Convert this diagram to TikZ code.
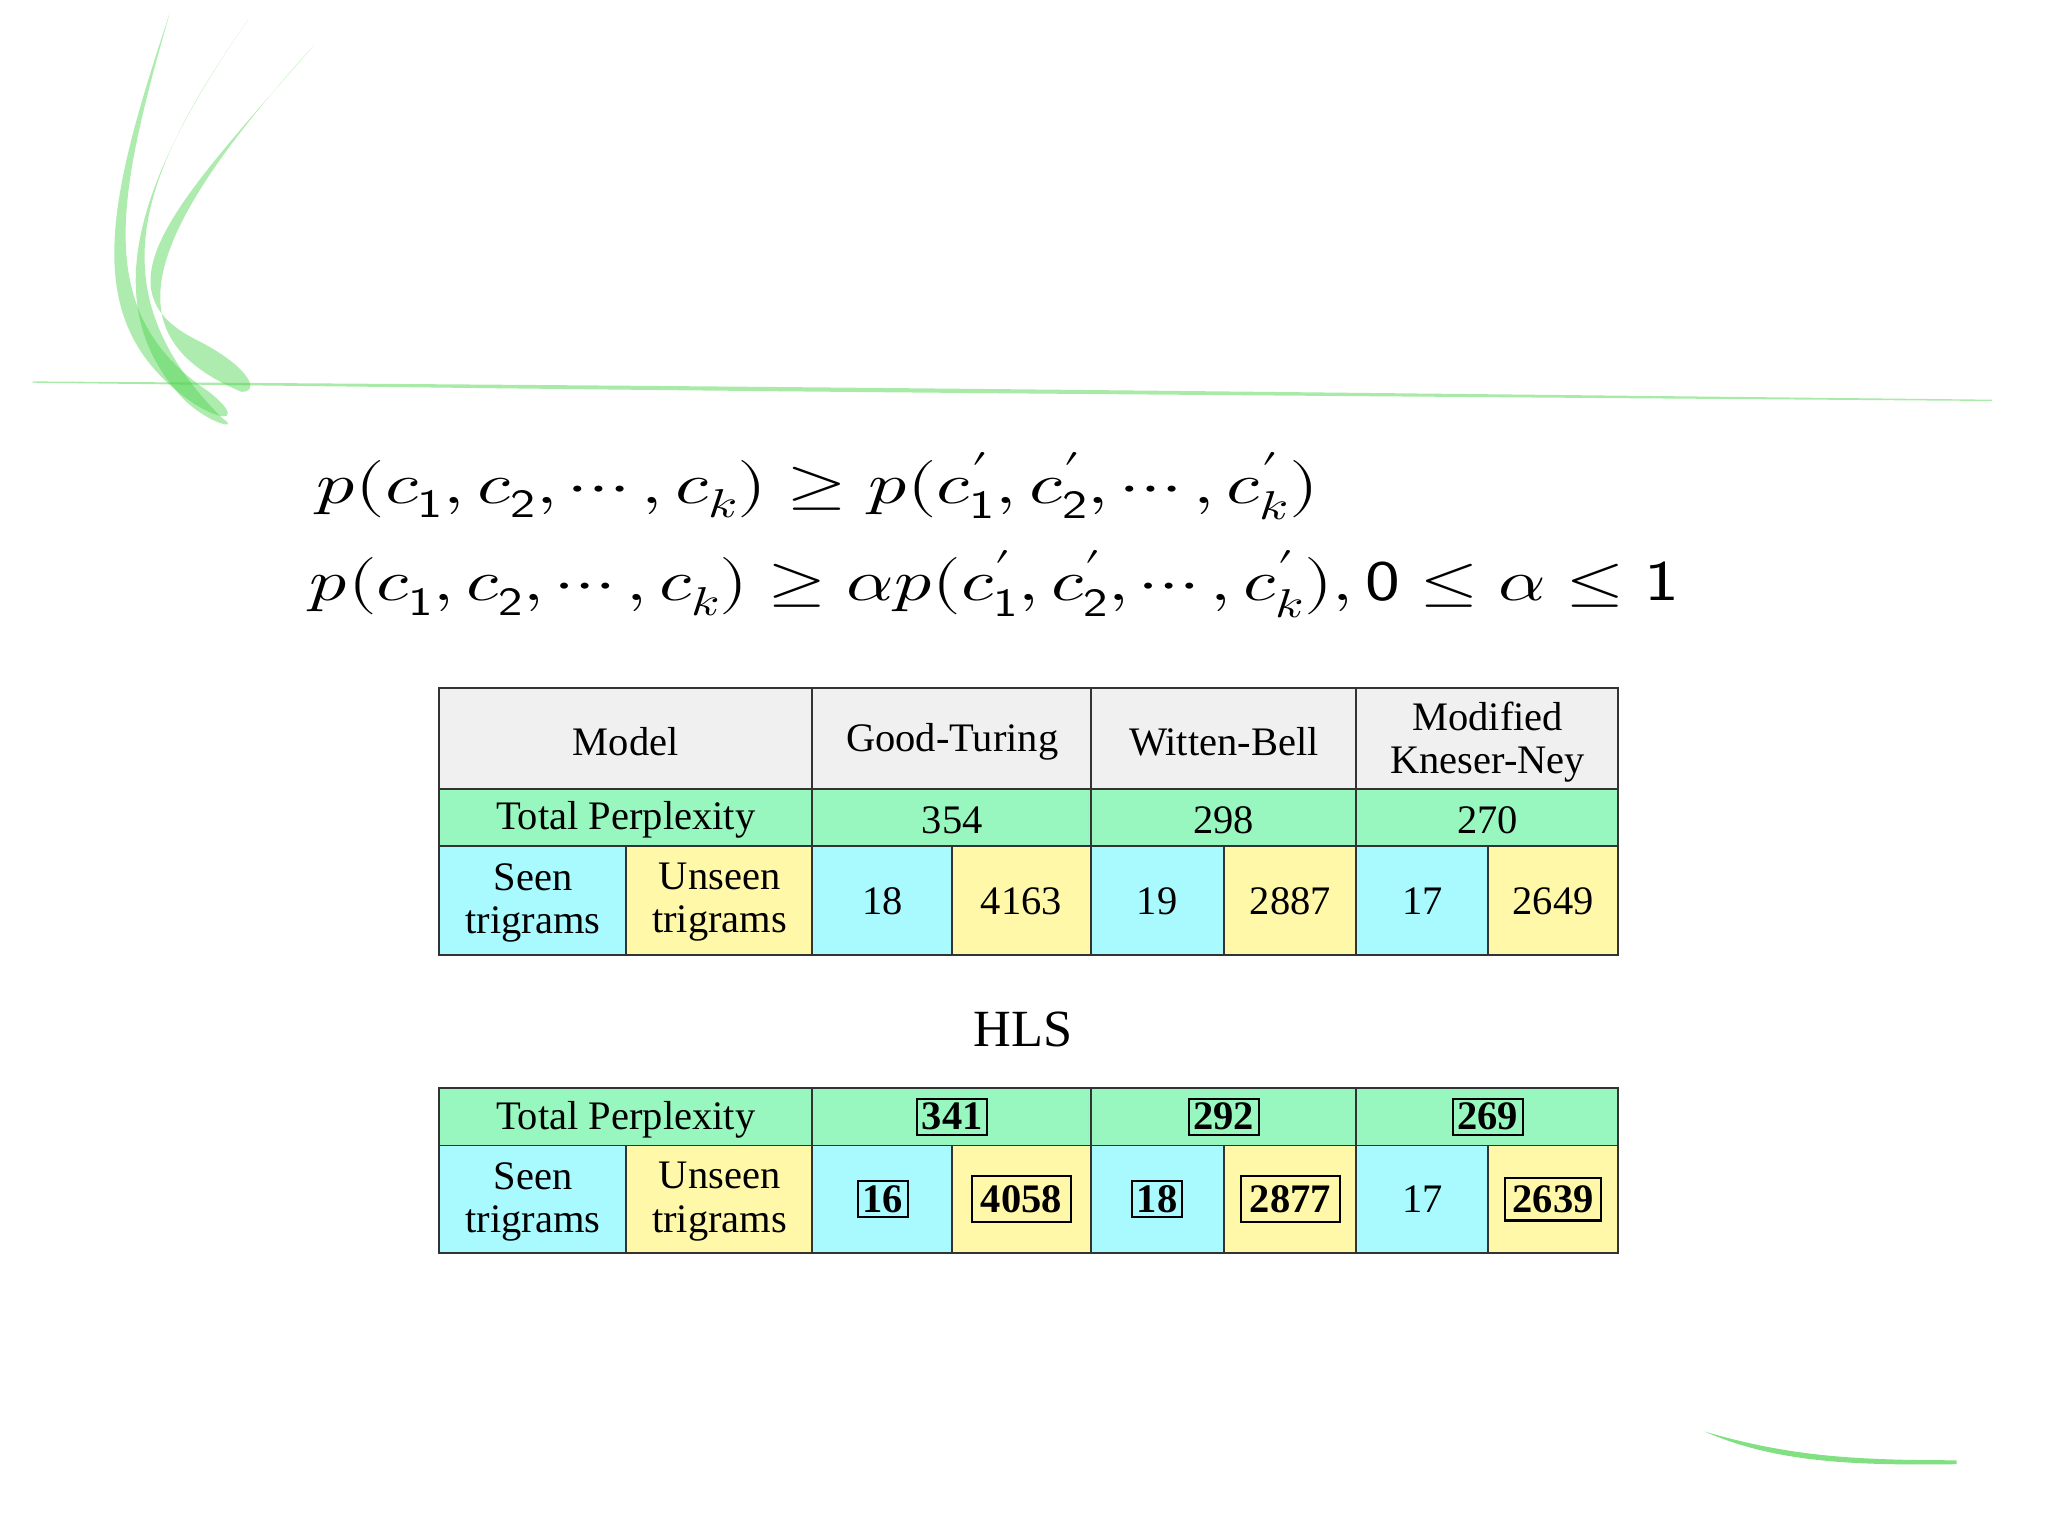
\documentclass[tikz,border=0pt]{standalone}
\usepackage{fontspec}
\usepackage{unicode-math}
\setmainfont{Liberation Serif}
\setmathfont{Latin Modern Math}
\begin{document}
\begin{tikzpicture}[x=1pt,y=-1pt,
  cell/.style={draw=black!80,line width=1.5pt},
  txt/.style={font=\fontsize{31}{33}\selectfont,align=center,inner sep=0pt},
  bx/.style={draw,line width=1.6pt,inner sep=3.5pt,font=\fontsize{31}{33}\selectfont\bfseries}]
\definecolor{hd}{HTML}{F0F0F0}
\definecolor{gr}{HTML}{98F7BE}
\definecolor{cy}{HTML}{A8FAFF}
\definecolor{ye}{HTML}{FFF8A8}
\definecolor{lf}{HTML}{4CD44C}
\useasboundingbox (0,0) rectangle (1568,1176);
\fill[white] (0,0) rectangle (1568,1176);
% decoration
\fill[lf!60,opacity=.8] (25,292) .. controls (600,296) .. (1525,306) -- (1525,307) .. controls (600,300) .. (25,293) -- cycle;
\fill[lf,opacity=.45] (130,10) .. controls (90,150) and (70,240) .. (160,300) .. controls (185,320) and (175,325) .. (150,310) .. controls (60,250) and (80,160) .. (130,10);
\fill[lf,opacity=.45] (190,15) .. controls (110,130) and (70,220) .. (170,320) .. controls (185,330) and (160,325) .. (140,305) .. controls (70,230) and (110,130) .. (190,15);
\fill[lf,opacity=.45] (240,35) .. controls (140,150) and (70,220) .. (150,260) .. controls (190,280) and (200,300) .. (185,300) .. controls (90,260) and (100,190) .. (240,35);
\fill[lf,opacity=.7] (1305,1096) .. controls (1370,1115) and (1420,1118) .. (1498,1118) -- (1498,1121) .. controls (1420,1122) and (1360,1120) .. (1305,1096);
% equations
\node[anchor=west,inner sep=0pt,font=\fontsize{44}{48}\selectfont] (eq1) at (242,372) {\scalebox{1.32}[1]{$p(c_{\mathsf{1}},c_{\mathsf{2}},\cdots,c_k)\geq p(c^{\prime}_{\mathsf{1}},c^{\prime}_{\mathsf{2}},\cdots,c^{\prime}_k)$}};
\node[anchor=west,inner sep=0pt,font=\fontsize{44}{48}\selectfont] (eq2) at (237,447) {\scalebox{1.285}[1]{$p(c_{\mathsf{1}},c_{\mathsf{2}},\cdots,c_k)\geq \alpha p(c^{\prime}_{\mathsf{1}},c^{\prime}_{\mathsf{2}},\cdots,c^{\prime}_k),\mathsf{0}\leq\alpha\leq\mathsf{1}$}};
% table 1
\filldraw[cell,fill=hd] (336,527) rectangle (622,604);
\filldraw[cell,fill=hd] (622,527) rectangle (835,604);
\filldraw[cell,fill=hd] (835,527) rectangle (1038,604);
\filldraw[cell,fill=hd] (1038,527) rectangle (1239,604);
\foreach \a/\b in {336/622,622/835,835/1038,1038/1239}{\filldraw[cell,fill=gr] (\a,604) rectangle (\b,648);}
\foreach \a/\b/\c in {336/479/cy,479/622/ye,622/729/cy,729/835/ye,835/937/cy,937/1038/ye,1038/1139/cy,1139/1239/ye}{\filldraw[cell,fill=\c] (\a,648) rectangle (\b,731);}
\node[txt] (m) at (479,568) {Model};
\node[txt] (gt) at (729,568) {Good-Turing};
\node[txt] (wb) at (937,568) {Witten-Bell};
\node[txt] (kn) at (1139,568) {Modified\\Kneser-Ney};
\node[txt] (tp) at (479,628) {Total Perplexity};
\node[txt] at (729,628) {354};
\node[txt] at (937,628) {298};
\node[txt] at (1139,628) {270};
\node[txt] at (408,691) {Seen\\trigrams};
\node[txt] at (551,691) {Unseen\\trigrams};
\node[txt] at (676,690) {18};
\node[txt] at (782,690) {4163};
\node[txt] at (886,690) {19};
\node[txt] at (988,690) {2887};
\node[txt] at (1089,690) {17};
\node[txt] at (1189,690) {2649};
\node[txt,font=\fontsize{40}{44}\selectfont] (hls) at (783,788) {HLS};
% table 2
\foreach \a/\b in {336/622,622/835,835/1038,1038/1239}{\filldraw[cell,fill=gr] (\a,833) rectangle (\b,877);}
\foreach \a/\b/\c in {336/479/cy,479/622/ye,622/729/cy,729/835/ye,835/937/cy,937/1038/ye,1038/1139/cy,1139/1239/ye}{\filldraw[cell,fill=\c] (\a,877) rectangle (\b,959);}
\node[txt] at (479,857) {Total Perplexity};
\node[bx] at (729,855) {341};
\node[bx] at (937,855) {292};
\node[bx] at (1139,855) {269};
\node[txt] at (408,920) {Seen\\trigrams};
\node[txt] at (551,920) {Unseen\\trigrams};
\node[bx] at (676,918) {16};
\node[bx,inner sep=7pt] at (782,918) {4058};
\node[bx] at (886,918) {18};
\node[bx,inner sep=7pt] at (988,918) {2877};
\node[txt] at (1089,918) {17};
\node[bx,inner sep=6pt] at (1189,918) {2639};
\end{tikzpicture}
\end{document}
